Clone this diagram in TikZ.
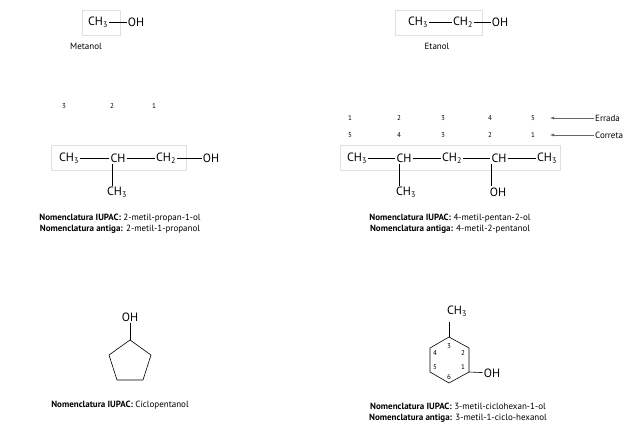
\documentclass[tikz,border=0pt]{standalone}
\usepackage{fontspec}
\setmainfont{PT Sans}
\tikzset{
 grp/.style={inner sep=1pt,font=\fontsize{12}{14}\selectfont},
 num/.style={inner sep=0pt,font=\fontsize{7}{8}\selectfont},
 captxt/.style={inner sep=0pt,font=\fontsize{9}{11}\selectfont,align=center},
 bond/.style={line width=0.6pt},
 frame/.style={draw=black!12,line width=0.4pt},
 arr/.style={-latex,line width=0.4pt,draw=black!60}
}
\newcommand{\subn}[1]{\textsubscript{#1}}
\begin{document}
\begin{tikzpicture}[x=1pt,y=-1pt]
\useasboundingbox (0,0) rectangle (640,425);
% Metanol
\draw[frame] (82,10) rectangle (120,35);
\node[grp] (m1) at (98,22) {CH\subn3};
\node[grp] (m2) at (136,22) {OH};
\draw[bond] (m1) -- (m2);
\node[captxt] (ml) at (86,46) {Metanol};
% Etanol
\draw[frame] (395,10) rectangle (482,35);
\node[grp] (e1) at (418,22) {CH\subn3};
\node[grp] (e2) at (463,22) {CH\subn2};
\node[grp] (e3) at (500,22) {OH};
\draw[bond] (e1) -- (e2); \draw[bond] (e2) -- (e3);
\node[captxt] (el) at (437,46) {Etanol};
% propanol
\draw[frame] (51,145) rectangle (186,170);
\foreach \n/\x in {3/64,2/112,1/154} \node[num] (pn\n) at (\x,106) {\n};
\node[grp] (p1) at (69,158) {CH\subn3};
\node[grp] (p2) at (118,158) {CH};
\node[grp] (p3) at (166,158) {CH\subn2};
\node[grp] (p4) at (211,158) {OH};
\node[grp] (p5) at (117,192) {CH\subn3};
\draw[bond] (p1) -- (p2); \draw[bond] (p2) -- (p3); \draw[bond] (p3) -- (p4);
\draw[bond] (p2.south -| 112,0) -- (p5.north -| 112,0);
\node[captxt] (pc) at (120,224) {\textbf{Nomenclatura IUPAC:} 2-metil-propan-1-ol\\\textbf{Nomenclatura antiga:} 2-metil-1-propanol};
% pentanol
\draw[frame] (340,145) rectangle (560,170);
\foreach \a/\b/\x in {1/5/350,2/4/399,3/3/443,4/2/490,5/1/533}{
 \node[num] (ea\a) at (\x,118) {\a};
 \node[num] (co\b) at (\x,135) {\b};}
\node[grp,anchor=west] (err) at (594,118) {\fontsize{9}{10}\selectfont Errada};
\node[grp,anchor=west] (cor) at (594,135) {\fontsize{9}{10}\selectfont Correta};
\draw[arr] (err.west) -- ([xshift=-44pt]err.west);
\draw[arr] (cor.west) -- ([xshift=-44pt]cor.west);
\node[grp] (q1) at (357,158) {CH\subn3};
\node[grp] (q2) at (404,158) {CH};
\node[grp] (q3) at (452,158) {CH\subn2};
\node[grp] (q4) at (499,158) {CH};
\node[grp] (q5) at (547,158) {CH\subn3};
\node[grp] (q6) at (406,192) {CH\subn3};
\node[grp] (q7) at (498,192) {OH};
\foreach \a/\b in {q1/q2,q2/q3,q3/q4,q4/q5} \draw[bond] (\a) -- (\b);
\draw[bond] (q2.south -| 399,0) -- (q6.north -| 399,0);
\draw[bond] (q4.south -| 491,0) -- (q7.north -| 491,0);
\node[captxt] (qc) at (450,224) {\textbf{Nomenclatura IUPAC:} 4-metil-pentan-2-ol\\\textbf{Nomenclatura antiga:} 4-metil-2-pentanol};
% ciclopentanol
\node[grp] (coh) at (130,317) {OH};
\coordinate (v0) at (130,340);
\coordinate (v1) at (151,355);
\coordinate (v2) at (143,380);
\coordinate (v3) at (117,380);
\coordinate (v4) at (109,355);
\draw[bond] (v0) -- (v1) -- (v2) -- (v3) -- (v4) -- cycle;
\draw[bond] (coh) -- (v0);
\node[captxt] (cc) at (120,405) {\textbf{Nomenclatura IUPAC:} Ciclopentanol};
% ciclohexanol
\node[grp] (hm) at (457,311) {CH\subn3};
\coordinate (h3) at (449,337);
\coordinate (h2) at (469,348);
\coordinate (h1) at (469,372);
\coordinate (h6) at (449,383);
\coordinate (h5) at (430,372);
\coordinate (h4) at (430,348);
\draw[bond] (h3) -- (h2) -- (h1) -- (h6) -- (h5) -- (h4) -- cycle;
\draw[bond] (h3) -- (449,322);
\node[grp] (hoh) at (492,373) {OH};
\draw[bond] (h1) -- (hoh);
\node[num] (n3) at (449,346) {3};
\node[num] (n2) at (463,353) {2};
\node[num] (n1) at (463,367) {1};
\node[num] (n6) at (449,377) {6};
\node[num] (n5) at (435,367) {5};
\node[num] (n4) at (435,353) {4};
\node[captxt] (hc) at (458,413) {\textbf{Nomenclatura IUPAC:} 3-metil-ciclohexan-1-ol\\\textbf{Nomenclatura antiga:} 3-metil-1-ciclo-hexanol};
\end{tikzpicture}
\end{document}
